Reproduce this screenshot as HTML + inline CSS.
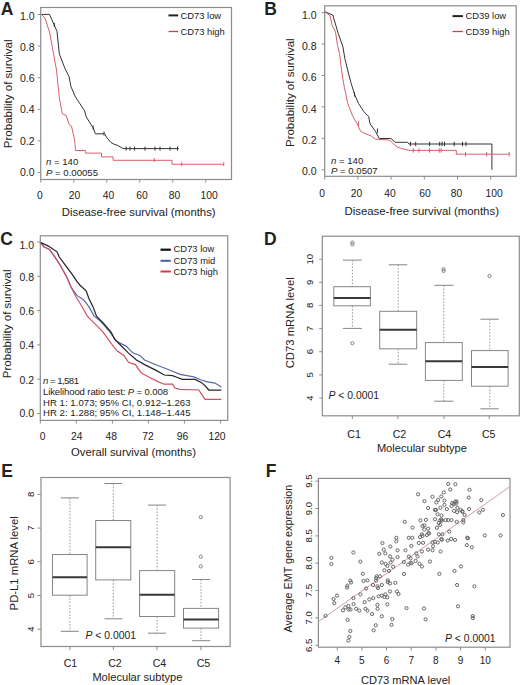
<!DOCTYPE html>
<html><head><meta charset="utf-8"><style>
html,body{margin:0;padding:0;background:#fff;}
svg{display:block;}
text{font-family:"Liberation Sans",sans-serif;fill:#222;}
</style></head><body>
<svg width="520" height="685" viewBox="0 0 520 685">
<!-- Panel A -->
<g id="A">
<text x="0.7" y="14.6" font-size="17.5" font-weight="700" fill="#111">A</text>
<rect x="40.75" y="7.5" width="190.75" height="172" fill="none" stroke="#8c8c8c" stroke-width="1.2"/>
<g stroke="#8c8c8c" stroke-width="1">
<path d="M37.7 14.5H40.75M37.7 46.1H40.75M37.7 77.7H40.75M37.7 109.3H40.75M37.7 140.9H40.75M37.7 172.5H40.75"/>
<path d="M40.75 179.5V182.5M73.75 179.5V182.5M106.75 179.5V182.5M139.75 179.5V182.5M172.75 179.5V182.5M205.75 179.5V182.5"/>
</g>
<g font-size="10.5" text-anchor="end">
<text x="34.5" y="19.5">1.0</text><text x="34.5" y="50.8">0.8</text><text x="34.5" y="82.1">0.6</text>
<text x="34.5" y="113.4">0.4</text><text x="34.5" y="144.7">0.2</text><text x="34.5" y="176">0.0</text>
</g>
<g font-size="10.3" text-anchor="middle">
<text x="39.8" y="198.5">0</text><text x="74.4" y="198.5">20</text><text x="108.4" y="198.5">40</text>
<text x="142" y="198.5">60</text><text x="174.5" y="198.5">80</text><text x="209.2" y="198.5">100</text>
</g>
<text x="138.7" y="216.2" font-size="11.35" text-anchor="middle">Disease-free survival (months)</text>
<text transform="translate(11.5 93.8) rotate(-90)" font-size="11.5" text-anchor="middle">Probability of survival</text>
<path d="M168.5 15.4H178.2" stroke="#222" stroke-width="2"/>
<path d="M168.5 31.5H178.2" stroke="#d0404a" stroke-width="1.3"/>
<text x="180.5" y="19" font-size="9.4">CD73 low</text>
<text x="180.5" y="34.6" font-size="9.4">CD73 high</text>
<text x="46" y="164.8" font-size="9.6"><tspan font-style="italic">n</tspan> = 140</text>
<text x="46" y="175.6" font-size="9.6"><tspan font-style="italic">P</tspan> = 0.00055</text>
<path fill="none" stroke="#333" stroke-width="1" d="M41.5 14.4H49.5L57 31.3L59.3 53.8L65.1 68.8L69.2 76.9L70.8 86.2L75.4 96.9L84.6 110.8L86.2 116.9L93.1 127.7L95.4 133.8H104.6L106.9 137.7L110.8 142.3L113.1 143.8L117.7 145.4L123.1 148.6H178.75"/>
<path stroke="#333" stroke-width="1" d="M54.3 23v4M93.1 125.5v4M104 131.5v4M126.2 146.6v4M130 146.6v4M134.6 146.6v4M145 146.6v4M155 146.6v4M160 146.6v4M170 146.6v4M177.5 146.6v4"/>
<path fill="none" stroke="#d6606a" stroke-width="1" d="M41.5 14.4L44.9 18L49.5 31.9L56.5 70L59.2 96.9L62.3 113.8L66.2 115.4L69.2 124.6L71.5 126.2L74.6 140L75.4 148.5V150.5H85.4V153.1H101.5V156.9H113.1V160.3H172V164.25H223.75"/>
<path stroke="#d6606a" stroke-width="1" d="M154.25 158v4M181.75 162.2v4M223.75 162.2v4"/>
</g>
<!-- Panel B -->
<g id="B">
<text x="264.2" y="14.6" font-size="17.5" font-weight="700" fill="#111">B</text>
<rect x="324.7" y="5.8" width="191.5" height="170.5" fill="none" stroke="#8c8c8c" stroke-width="1.2"/>
<g stroke="#8c8c8c" stroke-width="1">
<path d="M321.6 12.7H324.7M321.6 44.1H324.7M321.6 75.5H324.7M321.6 106.9H324.7M321.6 138.3H324.7M321.6 169.7H324.7"/>
<path d="M324.7 176.3V179.5M357.9 176.3V179.5M391.1 176.3V179.5M424.3 176.3V179.5M457.5 176.3V179.5M490.7 176.3V179.5"/>
</g>
<g font-size="10.5" text-anchor="end">
<text x="316.5" y="18.9">1.0</text><text x="316.5" y="50.1">0.8</text><text x="316.5" y="81.3">0.6</text>
<text x="316.5" y="112.5">0.4</text><text x="316.5" y="143.7">0.2</text><text x="316.5" y="174.9">0.0</text>
</g>
<g font-size="10.3" text-anchor="middle">
<text x="322" y="197.3">0</text><text x="356.4" y="197.3">20</text><text x="390" y="197.3">40</text>
<text x="424.9" y="197.3">60</text><text x="456.6" y="197.3">80</text><text x="494.2" y="197.3">100</text>
</g>
<text x="421.7" y="214.6" font-size="11.4" text-anchor="middle">Disease-free survival (months)</text>
<text transform="translate(293.5 92.7) rotate(-90)" font-size="11.5" text-anchor="middle">Probability of survival</text>
<path d="M452.5 16.1H462.9" stroke="#222" stroke-width="2"/>
<path d="M452.5 31.5H462.9" stroke="#d0404a" stroke-width="1.3"/>
<text x="465.5" y="18.9" font-size="9.4">CD39 low</text>
<text x="465.5" y="34.5" font-size="9.4">CD39 high</text>
<text x="331" y="164.1" font-size="9.6"><tspan font-style="italic">n</tspan> = 140</text>
<text x="331" y="174.2" font-size="9.6"><tspan font-style="italic">P</tspan> = 0.0507</text>
<path fill="none" stroke="#333" stroke-width="1" d="M324.7 11.7L332.8 15.1L338.2 33.3L342.9 46.7L344.9 58.8L348.9 75L351.2 83.5L354.5 94.2L358.6 103.6L363.9 111.7L368.6 116.4L370 123.8L375.4 131.3L379.2 138.5H390.8L395.4 142.3H407.5L409 144H491.9V169.8"/>
<path stroke="#333" stroke-width="1" d="M354.5 92v4.5M377.4 128.5v4.5M410.4 141.7v4.5M415.7 141.7v4.5M429.6 141.7v4.5M439.7 141.7v4.5M442.1 141.7v4.5M444.5 141.7v4.5M454.2 141.7v4.5M462.5 141.7v4.5M466 141.7v4.5"/>
<path fill="none" stroke="#d6606a" stroke-width="1" d="M324.7 11.7L330.1 15.8L332.1 25.2L335.5 31.9L337.5 45.4L339.5 53.5L342.2 75L344.4 87.5L347.8 103.6L352.5 115.8L357.2 123.8L360.6 131.2L364.6 133.3L371.3 136L375.4 139.2L389.2 140L396.9 146.9L401.5 148.5L408.9 150.4H456.3V154.2H509.2"/>
<path stroke="#d6606a" stroke-width="1" d="M358.6 121.5v4.5M413.3 148.2v4.5M419 148.2v4.5M429.6 148.2v4.5M439.2 148.2v4.5M441.2 148.2v4.5M465.5 152v4.5M486.7 152v4.5M509.2 152v4.5"/>
</g>
<!-- Panel C -->
<g id="C">
<text x="0.3" y="244.7" font-size="17.5" font-weight="700" fill="#111">C</text>
<rect x="40.3" y="235.8" width="187.4" height="184.6" fill="none" stroke="#8c8c8c" stroke-width="1.2"/>
<g stroke="#8c8c8c" stroke-width="1">
<path d="M37.2 242H40.3M37.2 276.3H40.3M37.2 310.6H40.3M37.2 344.9H40.3M37.2 379.2H40.3M37.2 413.5H40.3"/>
<path d="M40.3 420.4V423.5M76.3 420.4V423.5M112.4 420.4V423.5M148.4 420.4V423.5M184.4 420.4V423.5M220.5 420.4V423.5"/>
</g>
<g font-size="10.5" text-anchor="end">
<text x="34" y="248.6">1.0</text><text x="34" y="280.8">0.8</text><text x="34" y="314.9">0.6</text>
<text x="34" y="348.7">0.4</text><text x="34" y="383.5">0.2</text><text x="34" y="417.2">0.0</text>
</g>
<g font-size="10.3" text-anchor="middle">
<text x="42.5" y="439.8">0</text><text x="76.7" y="439.8">24</text><text x="111.2" y="439.8">48</text>
<text x="148.1" y="439.8">72</text><text x="182.6" y="439.8">96</text><text x="217" y="439.8">120</text>
</g>
<text x="133.5" y="456.2" font-size="11.3" text-anchor="middle">Overall survival (months)</text>
<text transform="translate(11.3 323.8) rotate(-90)" font-size="11.5" text-anchor="middle">Probability of survival</text>
<path d="M160.5 249.7H170.8" stroke="#111" stroke-width="2.2"/>
<path d="M160.5 260.8H170.8" stroke="#4a5ea8" stroke-width="2"/>
<path d="M160.5 271.5H170.8" stroke="#cc3a48" stroke-width="2"/>
<text x="173.6" y="252.3" font-size="9.4">CD73 low</text>
<text x="173.6" y="263.5" font-size="9.4">CD73 mid</text>
<text x="173.6" y="274.6" font-size="9.4">CD73 high</text>
<g font-size="9.6">
<text x="43" y="384.3" textLength="36" lengthAdjust="spacing"><tspan font-style="italic">n</tspan> = 1,581</text>
<text x="43" y="395.1" textLength="125" lengthAdjust="spacing">Likelihood ratio test: <tspan font-style="italic">P</tspan> = 0.008</text>
<text x="43" y="405.5" textLength="147.5" lengthAdjust="spacing">HR 1: 1.073; 95% CI, 0.912–1.263</text>
<text x="43" y="415.5" textLength="147.5" lengthAdjust="spacing">HR 2: 1.288; 95% CI, 1.148–1.445</text>
</g>
<path fill="none" stroke="#5468ac" stroke-width="1.2" d="M40.9 242.6L43.8 246.7L49.5 249.5L55.3 257.6L61.1 266.8L66.8 277.2L71.2 287.3L76.9 295.4L83.8 300L89 306.9L94.2 316.1L101.1 321.9L109.2 331.1L116.9 341.5L126.1 346.1L133.1 353.1L140 355.4L144.6 360L158.4 365.8L167.7 369.2L172.5 371.3L180 374.4L193.8 376.9L201.3 380L207.5 381.9L215 383.1L221.3 386.9"/>
<path fill="none" stroke="#d45060" stroke-width="1.2" d="M40.9 242.6L43.8 246.7L49.5 249.5L55.3 257.6L61.1 266.8L66.8 277.2L71.2 287.6L75.8 296.5L81.5 305.8L87.3 316.1L94.2 323.1L102.3 331.1L111.5 343.8L116.9 350.8L123.8 355.4L128.5 362.3L135.4 364.6L141.1 372.7L149.2 377.3L158.4 381.9L164.2 384.2H172.5L175 388.1L180 389.4L198.8 390L201.3 393.8L205 399.3H221.3"/>
<path fill="none" stroke="#262626" stroke-width="1.25" d="M40.9 242.6L48.4 246.1L57 251.8L59.3 257L65.7 265.7L72.6 274.9L77.2 281.8L79.8 285L86.1 290.8L89 298.8L93.1 306.9L96.5 316.1L103.4 323.1L111.2 332.3L114.6 339.2L120.4 345L128.5 353.1L136.5 360L144.6 364.6L156.1 370.4L164.2 375L172.5 375.6L177.5 377.5L182.5 379.4H195L201.3 382.5L205 385.6L208.8 390H221.3"/>
</g>
<!-- Panel D -->
<g id="D">
<text x="264" y="244.6" font-size="17.5" font-weight="700" fill="#111">D</text>
<rect x="322.3" y="236.2" width="197" height="179.6" fill="none" stroke="#8c8c8c" stroke-width="1.2"/>
<g stroke="#8c8c8c" stroke-width="1">
<path d="M319.2 259.2H322.3M319.2 282.3H322.3M319.2 305.4H322.3M319.2 328.6H322.3M319.2 351.7H322.3M319.2 374.9H322.3M319.2 398H322.3"/>
<path d="M352.3 415.8V419M397.9 415.8V419M444 415.8V419M489.2 415.8V419"/>
</g>
<g font-size="9.6" text-anchor="middle">
<text transform="translate(313.2 259.2) rotate(-90)">10</text>
<text transform="translate(313.2 282.3) rotate(-90)">9</text>
<text transform="translate(313.2 305.4) rotate(-90)">8</text>
<text transform="translate(313.2 328.6) rotate(-90)">7</text>
<text transform="translate(313.2 351.7) rotate(-90)">6</text>
<text transform="translate(313.2 374.9) rotate(-90)">5</text>
<text transform="translate(313.2 398) rotate(-90)">4</text>
</g>
<g font-size="10.6" text-anchor="middle">
<text x="354.1" y="437.7">C1</text><text x="399.5" y="437.7">C2</text><text x="444.5" y="437.7">C4</text><text x="488.7" y="437.7">C5</text>
</g>
<text x="421.9" y="452.1" font-size="11.1" text-anchor="middle">Molecular subtype</text>
<text transform="translate(293.5 322.8) rotate(-90)" font-size="11.3" text-anchor="middle">CD73 mRNA level</text>
<text x="328.5" y="398.5" font-size="10.4"><tspan font-style="italic">P</tspan> &lt; 0.0001</text>
<g fill="none" stroke="#858585" stroke-width="1">
<path stroke="#999" stroke-dasharray="1.6 1.6" d="M352.4 260.1V286.7M352.4 305.8V328.4M398.2 264.8V311.3M398.2 348.8V364.2M443.8 285.3V342.6M443.8 380.4V401.2M489.8 319.2V350.6M489.8 386.2V408.8"/>
<path d="M342.9 260.1H361.9M342.9 328.4H361.9M388.7 264.8H407.3M388.7 364.2H407.3M434.3 285.3H453.5M434.3 401.2H453.5M480.4 319.2H498.8M480.4 408.8H498.8"/>
<rect x="333.8" y="286.7" width="36.6" height="19.1"/>
<rect x="379.7" y="311.3" width="37" height="37.5"/>
<rect x="425.4" y="342.6" width="36.9" height="37.8"/>
<rect x="471.5" y="350.6" width="36.6" height="35.6"/>
<circle cx="352.4" cy="242.6" r="1.6"/><circle cx="352.4" cy="244.4" r="1.6"/><circle cx="352.4" cy="343.2" r="1.6"/>
<circle cx="443.6" cy="269.2" r="1.6"/><circle cx="443.6" cy="271" r="1.6"/><circle cx="489.5" cy="276" r="1.6"/>
</g>
<g stroke="#383838" stroke-width="2">
<path d="M333.8 298H370.4M379.7 329.7H416.7M425.4 361.2H462.3M471.5 366.9H508.1"/>
</g>
</g>
<!-- Panel E -->
<g id="E">
<text x="1.2" y="476.9" font-size="17.5" font-weight="700" fill="#111">E</text>
<rect x="41" y="477.5" width="189.1" height="169" fill="none" stroke="#8c8c8c" stroke-width="1.2"/>
<g stroke="#8c8c8c" stroke-width="1">
<path d="M37.5 494.4H41M37.5 528.1H41M37.5 561.8H41M37.5 595.5H41M37.5 629.2H41"/>
<path d="M69.9 646.5V650.2M113.4 646.5V650.2M156.9 646.5V650.2M200.9 646.5V650.2"/>
</g>
<g font-size="9.6" text-anchor="middle">
<text transform="translate(34.4 494.4) rotate(-90)">8</text>
<text transform="translate(34.4 528.1) rotate(-90)">7</text>
<text transform="translate(34.4 561.8) rotate(-90)">6</text>
<text transform="translate(34.4 595.5) rotate(-90)">5</text>
<text transform="translate(34.4 629.2) rotate(-90)">4</text>
</g>
<g font-size="10.6" text-anchor="middle">
<text x="70.5" y="666.8">C1</text><text x="115" y="666.8">C2</text><text x="159.5" y="666.8">C4</text><text x="203.5" y="666.8">C5</text>
</g>
<text x="137.4" y="681.2" font-size="11.1" text-anchor="middle">Molecular subtype</text>
<text transform="translate(17.6 563.3) rotate(-90)" font-size="11.3" text-anchor="middle">PD-L1 mRNA level</text>
<text x="85.5" y="638.6" font-size="10.4"><tspan font-style="italic">P</tspan> &lt; 0.0001</text>
<g fill="none" stroke="#858585" stroke-width="1">
<path stroke="#999" stroke-dasharray="1.6 1.6" d="M69.9 497.9V554.5M69.9 595.2V631.3M113.3 483.5V520.5M113.3 579.9V618.8M157.1 505.1V570.6M157.1 616.5V633.2M201 579.5V608.4M201 628.1V640.7"/>
<path d="M60.7 497.9H78.8M60.7 631.3H78.8M104.5 483.5H122.2M104.5 618.8H122.2M148 505.1H166M148 633.2H166M192.1 579.5H210.2M192.1 640.7H210.2"/>
<rect x="52.5" y="554.5" width="34.6" height="40.7"/>
<rect x="95.7" y="520.5" width="35.1" height="59.4"/>
<rect x="139.6" y="570.6" width="35.1" height="45.9"/>
<rect x="183.5" y="608.4" width="35.1" height="19.7"/>
<circle cx="200.8" cy="517.2" r="1.6"/><circle cx="200.8" cy="556.7" r="1.6"/><circle cx="200.8" cy="566.4" r="1.6"/>
</g>
<g stroke="#383838" stroke-width="2">
<path d="M52.5 577.3H87.1M95.7 547.2H130.8M139.6 594.8H174.7M183.5 619.5H218.6"/>
</g>
</g>
<!-- Panel F -->
<g id="F">
<text x="265.8" y="476.6" font-size="17.5" font-weight="700" fill="#111">F</text>
<rect x="318.4" y="478.4" width="191.6" height="168.8" fill="none" stroke="#8c8c8c" stroke-width="1.2"/>
<g stroke="#8c8c8c" stroke-width="1">
<path d="M315.3 481.2H318.4M315.3 508.5H318.4M315.3 535.9H318.4M315.3 563.2H318.4M315.3 590.6H318.4M315.3 617.9H318.4M315.3 645.3H318.4"/>
<path d="M337.3 647.2V650.5M361.9 647.2V650.5M386.5 647.2V650.5M411.2 647.2V650.5M435.9 647.2V650.5M460.6 647.2V650.5M485.3 647.2V650.5"/>
</g>
<g font-size="9.6" text-anchor="middle">
<text transform="translate(311.6 481.2) rotate(-90)">9.5</text>
<text transform="translate(311.6 508.5) rotate(-90)">9.0</text>
<text transform="translate(311.6 535.9) rotate(-90)">8.5</text>
<text transform="translate(311.6 563.2) rotate(-90)">8.0</text>
<text transform="translate(311.6 590.6) rotate(-90)">7.5</text>
<text transform="translate(311.6 617.9) rotate(-90)">7.0</text>
<text transform="translate(311.6 645.3) rotate(-90)">6.5</text>
</g>
<g font-size="10" text-anchor="middle">
<text x="337.3" y="664">4</text><text x="361.9" y="664">5</text><text x="386.5" y="664">6</text><text x="411.2" y="664">7</text>
<text x="435.9" y="664">8</text><text x="460.6" y="664">9</text><text x="485.3" y="664">10</text>
</g>
<text x="405.6" y="683.8" font-size="11.1" text-anchor="middle">CD73 mRNA level</text>
<text transform="translate(292.1 558.6) rotate(-90)" font-size="10.8" text-anchor="middle">Average EMT gene expression</text>
<text x="445" y="641.7" font-size="10.4"><tspan font-style="italic">P</tspan> &lt; 0.0001</text>
<path d="M318.4 621.6L510 486.5" stroke="#d49aa2" stroke-width="1"/>
<g fill="none" stroke="#606060" stroke-width="0.95"><circle cx="331.4" cy="557.9" r="1.6"/><circle cx="331.4" cy="564.0" r="1.6"/><circle cx="353.4" cy="552.5" r="1.6"/><circle cx="360.3" cy="561.6" r="1.6"/><circle cx="379.3" cy="553.8" r="1.6"/><circle cx="381.8" cy="562.5" r="1.6"/><circle cx="382.4" cy="543.1" r="1.6"/><circle cx="362.8" cy="573.8" r="1.6"/><circle cx="350.3" cy="580.6" r="1.6"/><circle cx="351.1" cy="582.5" r="1.6"/><circle cx="363.6" cy="581.0" r="1.6"/><circle cx="367.4" cy="580.3" r="1.6"/><circle cx="347.4" cy="585.6" r="1.6"/><circle cx="347.0" cy="587.5" r="1.6"/><circle cx="366.1" cy="588.5" r="1.6"/><circle cx="373.0" cy="585.0" r="1.6"/><circle cx="376.1" cy="578.1" r="1.6"/><circle cx="376.8" cy="576.3" r="1.6"/><circle cx="379.9" cy="576.3" r="1.6"/><circle cx="376.1" cy="580.6" r="1.6"/><circle cx="377.4" cy="586.3" r="1.6"/><circle cx="378.0" cy="588.1" r="1.6"/><circle cx="381.8" cy="585.0" r="1.6"/><circle cx="325.5" cy="615.9" r="1.6"/><circle cx="333.6" cy="599.0" r="1.6"/><circle cx="337.0" cy="595.6" r="1.6"/><circle cx="334.3" cy="603.1" r="1.6"/><circle cx="353.4" cy="598.1" r="1.6"/><circle cx="360.5" cy="594.4" r="1.6"/><circle cx="343.0" cy="610.3" r="1.6"/><circle cx="345.3" cy="607.3" r="1.6"/><circle cx="348.3" cy="606.0" r="1.6"/><circle cx="348.6" cy="609.4" r="1.6"/><circle cx="350.5" cy="609.4" r="1.6"/><circle cx="353.6" cy="604.1" r="1.6"/><circle cx="356.1" cy="608.8" r="1.6"/><circle cx="359.3" cy="610.6" r="1.6"/><circle cx="347.6" cy="619.8" r="1.6"/><circle cx="350.3" cy="631.0" r="1.6"/><circle cx="349.3" cy="636.9" r="1.6"/><circle cx="348.4" cy="640.6" r="1.6"/><circle cx="364.6" cy="602.1" r="1.6"/><circle cx="369.3" cy="599.4" r="1.6"/><circle cx="373.3" cy="598.1" r="1.6"/><circle cx="378.6" cy="596.3" r="1.6"/><circle cx="381.8" cy="595.6" r="1.6"/><circle cx="365.5" cy="608.8" r="1.6"/><circle cx="367.4" cy="610.6" r="1.6"/><circle cx="372.1" cy="614.0" r="1.6"/><circle cx="377.4" cy="604.8" r="1.6"/><circle cx="377.6" cy="608.8" r="1.6"/><circle cx="381.8" cy="616.3" r="1.6"/><circle cx="375.8" cy="625.3" r="1.6"/><circle cx="373.6" cy="630.3" r="1.6"/><circle cx="418.1" cy="494.3" r="1.6"/><circle cx="424.4" cy="501.1" r="1.6"/><circle cx="432.5" cy="496.8" r="1.6"/><circle cx="428.1" cy="508.0" r="1.6"/><circle cx="436.3" cy="502.4" r="1.6"/><circle cx="438.1" cy="499.9" r="1.6"/><circle cx="441.3" cy="496.5" r="1.6"/><circle cx="443.8" cy="492.4" r="1.6"/><circle cx="444.4" cy="500.5" r="1.6"/><circle cx="444.4" cy="504.9" r="1.6"/><circle cx="435.0" cy="509.9" r="1.6"/><circle cx="440.4" cy="507.8" r="1.6"/><circle cx="437.5" cy="514.3" r="1.6"/><circle cx="441.5" cy="515.5" r="1.6"/><circle cx="435.0" cy="519.3" r="1.6"/><circle cx="440.0" cy="520.5" r="1.6"/><circle cx="441.3" cy="519.3" r="1.6"/><circle cx="438.8" cy="523.0" r="1.6"/><circle cx="440.0" cy="524.9" r="1.6"/><circle cx="404.8" cy="521.8" r="1.6"/><circle cx="412.5" cy="527.6" r="1.6"/><circle cx="420.4" cy="520.3" r="1.6"/><circle cx="425.9" cy="519.9" r="1.6"/><circle cx="422.5" cy="526.1" r="1.6"/><circle cx="424.4" cy="525.3" r="1.6"/><circle cx="424.4" cy="529.5" r="1.6"/><circle cx="428.1" cy="528.6" r="1.6"/><circle cx="428.5" cy="533.0" r="1.6"/><circle cx="421.9" cy="534.3" r="1.6"/><circle cx="436.9" cy="527.8" r="1.6"/><circle cx="438.8" cy="534.3" r="1.6"/><circle cx="442.5" cy="534.3" r="1.6"/><circle cx="396.3" cy="537.8" r="1.6"/><circle cx="396.3" cy="541.3" r="1.6"/><circle cx="390.3" cy="546.5" r="1.6"/><circle cx="383.8" cy="549.6" r="1.6"/><circle cx="385.3" cy="553.4" r="1.6"/><circle cx="397.5" cy="550.3" r="1.6"/><circle cx="405.4" cy="550.3" r="1.6"/><circle cx="408.8" cy="537.8" r="1.6"/><circle cx="412.3" cy="537.8" r="1.6"/><circle cx="411.3" cy="545.9" r="1.6"/><circle cx="418.8" cy="543.0" r="1.6"/><circle cx="420.0" cy="537.1" r="1.6"/><circle cx="422.5" cy="535.9" r="1.6"/><circle cx="426.9" cy="535.0" r="1.6"/><circle cx="423.1" cy="542.8" r="1.6"/><circle cx="416.3" cy="553.4" r="1.6"/><circle cx="421.9" cy="551.5" r="1.6"/><circle cx="428.1" cy="549.6" r="1.6"/><circle cx="432.5" cy="550.3" r="1.6"/><circle cx="433.1" cy="546.3" r="1.6"/><circle cx="432.5" cy="542.5" r="1.6"/><circle cx="435.0" cy="541.8" r="1.6"/><circle cx="437.8" cy="542.5" r="1.6"/><circle cx="441.3" cy="539.0" r="1.6"/><circle cx="440.6" cy="551.5" r="1.6"/><circle cx="390.0" cy="556.5" r="1.6"/><circle cx="392.5" cy="559.6" r="1.6"/><circle cx="397.5" cy="557.1" r="1.6"/><circle cx="408.8" cy="556.5" r="1.6"/><circle cx="410.6" cy="558.4" r="1.6"/><circle cx="417.5" cy="556.5" r="1.6"/><circle cx="385.6" cy="564.0" r="1.6"/><circle cx="387.5" cy="565.9" r="1.6"/><circle cx="390.6" cy="562.5" r="1.6"/><circle cx="403.8" cy="562.1" r="1.6"/><circle cx="408.1" cy="564.6" r="1.6"/><circle cx="410.6" cy="562.8" r="1.6"/><circle cx="415.6" cy="560.9" r="1.6"/><circle cx="419.4" cy="563.8" r="1.6"/><circle cx="421.9" cy="566.5" r="1.6"/><circle cx="430.0" cy="561.5" r="1.6"/><circle cx="393.1" cy="566.8" r="1.6"/><circle cx="384.4" cy="570.3" r="1.6"/><circle cx="389.0" cy="570.9" r="1.6"/><circle cx="404.0" cy="574.0" r="1.6"/><circle cx="439.4" cy="573.8" r="1.6"/><circle cx="387.8" cy="580.3" r="1.6"/><circle cx="387.8" cy="582.1" r="1.6"/><circle cx="390.0" cy="583.4" r="1.6"/><circle cx="395.3" cy="582.8" r="1.6"/><circle cx="390.0" cy="591.5" r="1.6"/><circle cx="396.9" cy="591.5" r="1.6"/><circle cx="398.5" cy="594.0" r="1.6"/><circle cx="385.3" cy="594.4" r="1.6"/><circle cx="384.4" cy="596.9" r="1.6"/><circle cx="387.3" cy="597.3" r="1.6"/><circle cx="387.3" cy="604.4" r="1.6"/><circle cx="406.5" cy="608.1" r="1.6"/><circle cx="424.0" cy="608.5" r="1.6"/><circle cx="392.3" cy="619.0" r="1.6"/><circle cx="391.5" cy="624.8" r="1.6"/><circle cx="425.6" cy="619.4" r="1.6"/><circle cx="448.2" cy="483.9" r="1.6"/><circle cx="455.4" cy="484.3" r="1.6"/><circle cx="450.2" cy="489.5" r="1.6"/><circle cx="469.5" cy="489.8" r="1.6"/><circle cx="446.9" cy="509.1" r="1.6"/><circle cx="452.2" cy="503.1" r="1.6"/><circle cx="455.4" cy="501.5" r="1.6"/><circle cx="456.1" cy="503.5" r="1.6"/><circle cx="451.5" cy="506.1" r="1.6"/><circle cx="457.4" cy="507.8" r="1.6"/><circle cx="454.1" cy="510.9" r="1.6"/><circle cx="457.1" cy="512.2" r="1.6"/><circle cx="460.6" cy="510.0" r="1.6"/><circle cx="462.3" cy="511.3" r="1.6"/><circle cx="464.6" cy="515.0" r="1.6"/><circle cx="468.8" cy="497.6" r="1.6"/><circle cx="469.1" cy="509.0" r="1.6"/><circle cx="481.3" cy="500.2" r="1.6"/><circle cx="479.3" cy="512.4" r="1.6"/><circle cx="482.9" cy="509.8" r="1.6"/><circle cx="502.9" cy="515.0" r="1.6"/><circle cx="445.6" cy="520.1" r="1.6"/><circle cx="448.2" cy="520.1" r="1.6"/><circle cx="451.5" cy="520.1" r="1.6"/><circle cx="456.7" cy="521.8" r="1.6"/><circle cx="463.3" cy="520.1" r="1.6"/><circle cx="463.3" cy="522.4" r="1.6"/><circle cx="449.3" cy="531.6" r="1.6"/><circle cx="484.8" cy="535.5" r="1.6"/><circle cx="500.5" cy="535.5" r="1.6"/><circle cx="447.6" cy="540.5" r="1.6"/><circle cx="451.1" cy="539.0" r="1.6"/><circle cx="455.0" cy="539.9" r="1.6"/><circle cx="467.2" cy="537.7" r="1.6"/><circle cx="466.8" cy="545.1" r="1.6"/><circle cx="471.8" cy="547.3" r="1.6"/><circle cx="461.0" cy="566.4" r="1.6"/><circle cx="454.5" cy="570.9" r="1.6"/><circle cx="457.1" cy="585.0" r="1.6"/><circle cx="474.4" cy="586.3" r="1.6"/><circle cx="458.0" cy="606.3" r="1.6"/><circle cx="472.8" cy="616.1" r="1.6"/><circle cx="472.8" cy="618.1" r="1.6"/><circle cx="436.0" cy="509.9" r="1.6"/><circle cx="441.9" cy="520.7" r="1.6"/><circle cx="429.1" cy="533.4" r="1.6"/><circle cx="441.9" cy="539.7" r="1.6"/><circle cx="468.0" cy="538.3" r="1.6"/><circle cx="453.6" cy="504.0" r="1.6"/><circle cx="462.5" cy="511.8" r="1.6"/><circle cx="411.5" cy="563.2" r="1.6"/><circle cx="456.6" cy="501.6" r="1.6"/></g>
</g>
</svg>
</body></html>
